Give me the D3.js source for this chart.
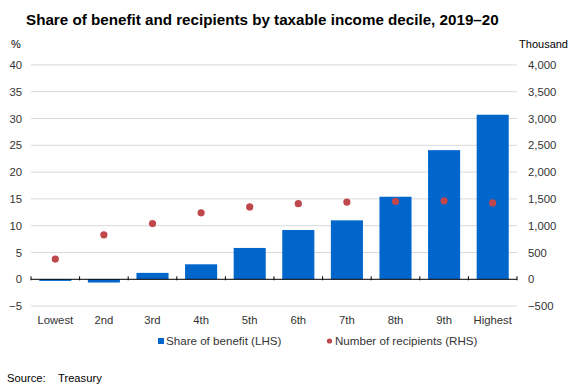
<!DOCTYPE html>
<html lang="en">
<head>
<meta charset="UTF-8">
<script src="https://d3js.org/d3.v7.min.js"></script>
<style>
  body { margin: 0; background: #fff; }
  svg text { font-family: "Liberation Sans", Arial, sans-serif; }
</style>
</head>
<body>
<div id="chart"></div>
<script>
// deciles, share of benefit (%) on LHS, recipients (thousand) on RHS
const deciles = ["Lowest", "2nd", "3rd", "4th", "5th", "6th", "7th", "8th", "9th", "Highest"];
const shareOfBenefit = [-0.3, -0.6, 1.2, 2.8, 5.85, 9.2, 11.0, 15.4, 24.1, 30.7];
const recipients = [378, 830, 1040, 1240, 1350, 1410, 1440, 1455, 1465, 1425];
const leftTicks = [-5, 0, 5, 10, 15, 20, 25, 30, 35, 40];
const rightTicks = [-500, 0, 500, 1000, 1500, 2000, 2500, 3000, 3500, 4000];

const width = 584, height = 389;
const plotLeft = 31, plotRight = 517;

const svg = d3.select("#chart").append("svg")
    .attr("width", width)
    .attr("height", height)
    .attr("viewBox", [0, 0, width, height]);

const x = d3.scaleBand().domain(deciles).range([plotLeft, plotRight]).paddingInner(0.34).paddingOuter(0.17);
const xEdge = d3.scaleBand().domain(deciles).range([plotLeft, plotRight]);
const y = d3.scaleLinear().domain([-5, 40]).range([306.1, 64.9]);
const y2 = d3.scaleLinear().domain([-500, 4000]).range([306.1, 64.9]);

// title
svg.append("text")
    .attr("x", 26).attr("y", 25)
    .attr("font-size", 15.2).attr("font-weight", "bold").attr("fill", "#000")
    .text("Share of benefit and recipients by taxable income decile, 2019\u201320");

svg.append("text").attr("x", 11).attr("y", 48).attr("font-size", 11).attr("fill", "#000").text("%");
svg.append("text").attr("x", 568).attr("y", 48).attr("font-size", 11).attr("text-anchor", "end").attr("fill", "#000").text("Thousand");

// gridlines
svg.append("g")
  .selectAll("line")
  .data(leftTicks.filter(d => d !== 0))
  .join("line")
    .attr("x1", plotLeft).attr("x2", plotRight)
    .attr("y1", d => y(d)).attr("y2", d => y(d))
    .attr("stroke", "#d9d9d9").attr("stroke-width", 1);

// left axis
svg.append("g")
    .attr("transform", `translate(${plotLeft},0)`)
    .call(d3.axisLeft(y).tickValues(leftTicks).tickSize(0).tickPadding(9))
    .call(g => g.select(".domain").remove())
    .call(g => g.selectAll("text").attr("font-size", 11.3).attr("fill", "#333").attr("font-family", "Liberation Sans, Arial, sans-serif"));

// right axis
svg.append("g")
    .attr("transform", `translate(${plotRight},0)`)
    .call(d3.axisRight(y2).tickValues(rightTicks).tickSize(0).tickPadding(11).tickFormat(d3.format(",")))
    .call(g => g.select(".domain").remove())
    .call(g => g.selectAll("text").attr("font-size", 11.3).attr("fill", "#333").attr("font-family", "Liberation Sans, Arial, sans-serif"));

// bars
svg.append("g")
  .selectAll("rect")
  .data(deciles)
  .join("rect")
    .attr("x", d => x(d))
    .attr("width", x.bandwidth())
    .attr("y", (d, i) => Math.min(y(shareOfBenefit[i]), y(0)))
    .attr("height", (d, i) => Math.abs(y(shareOfBenefit[i]) - y(0)))
    .attr("fill", "#0066cc");

// zero axis line with ticks at category boundaries
svg.append("line")
    .attr("x1", plotLeft).attr("x2", plotRight)
    .attr("y1", y(0)).attr("y2", y(0))
    .attr("stroke", "#000").attr("stroke-width", 1);
svg.append("g")
  .selectAll("line")
  .data(deciles.concat(["end"]))
  .join("line")
    .attr("x1", (d, i) => i < deciles.length ? xEdge(d) : plotRight)
    .attr("x2", (d, i) => i < deciles.length ? xEdge(d) : plotRight)
    .attr("y1", y(0) - 3).attr("y2", y(0) + 1)
    .attr("stroke", "#000").attr("stroke-width", 1);

// x labels
svg.append("g")
  .selectAll("text")
  .data(deciles)
  .join("text")
    .attr("x", d => x(d) + x.bandwidth() / 2)
    .attr("y", 324)
    .attr("text-anchor", "middle")
    .attr("font-size", 11.3).attr("fill", "#333")
    .text(d => d);

// dots
svg.append("g")
  .selectAll("circle")
  .data(deciles)
  .join("circle")
    .attr("cx", d => x(d) + x.bandwidth() / 2)
    .attr("cy", (d, i) => y2(recipients[i]))
    .attr("r", 3.6)
    .attr("fill", "#c0474c");

// legend
svg.append("rect").attr("x", 158).attr("y", 338).attr("width", 6).attr("height", 6).attr("fill", "#0066cc");
svg.append("text").attr("x", 166).attr("y", 345).attr("font-size", 11.6).attr("fill", "#333").text("Share of benefit (LHS)");
svg.append("circle").attr("cx", 329.5).attr("cy", 341).attr("r", 2.6).attr("fill", "#c0474c");
svg.append("text").attr("x", 335).attr("y", 345).attr("font-size", 11.6).attr("fill", "#333").text("Number of recipients (RHS)");

// source
svg.append("text").attr("x", 7).attr("y", 382).attr("font-size", 11.2).attr("fill", "#000").text("Source:");
svg.append("text").attr("x", 58).attr("y", 382).attr("font-size", 11.2).attr("fill", "#000").text("Treasury");
</script>
</body>
</html>
